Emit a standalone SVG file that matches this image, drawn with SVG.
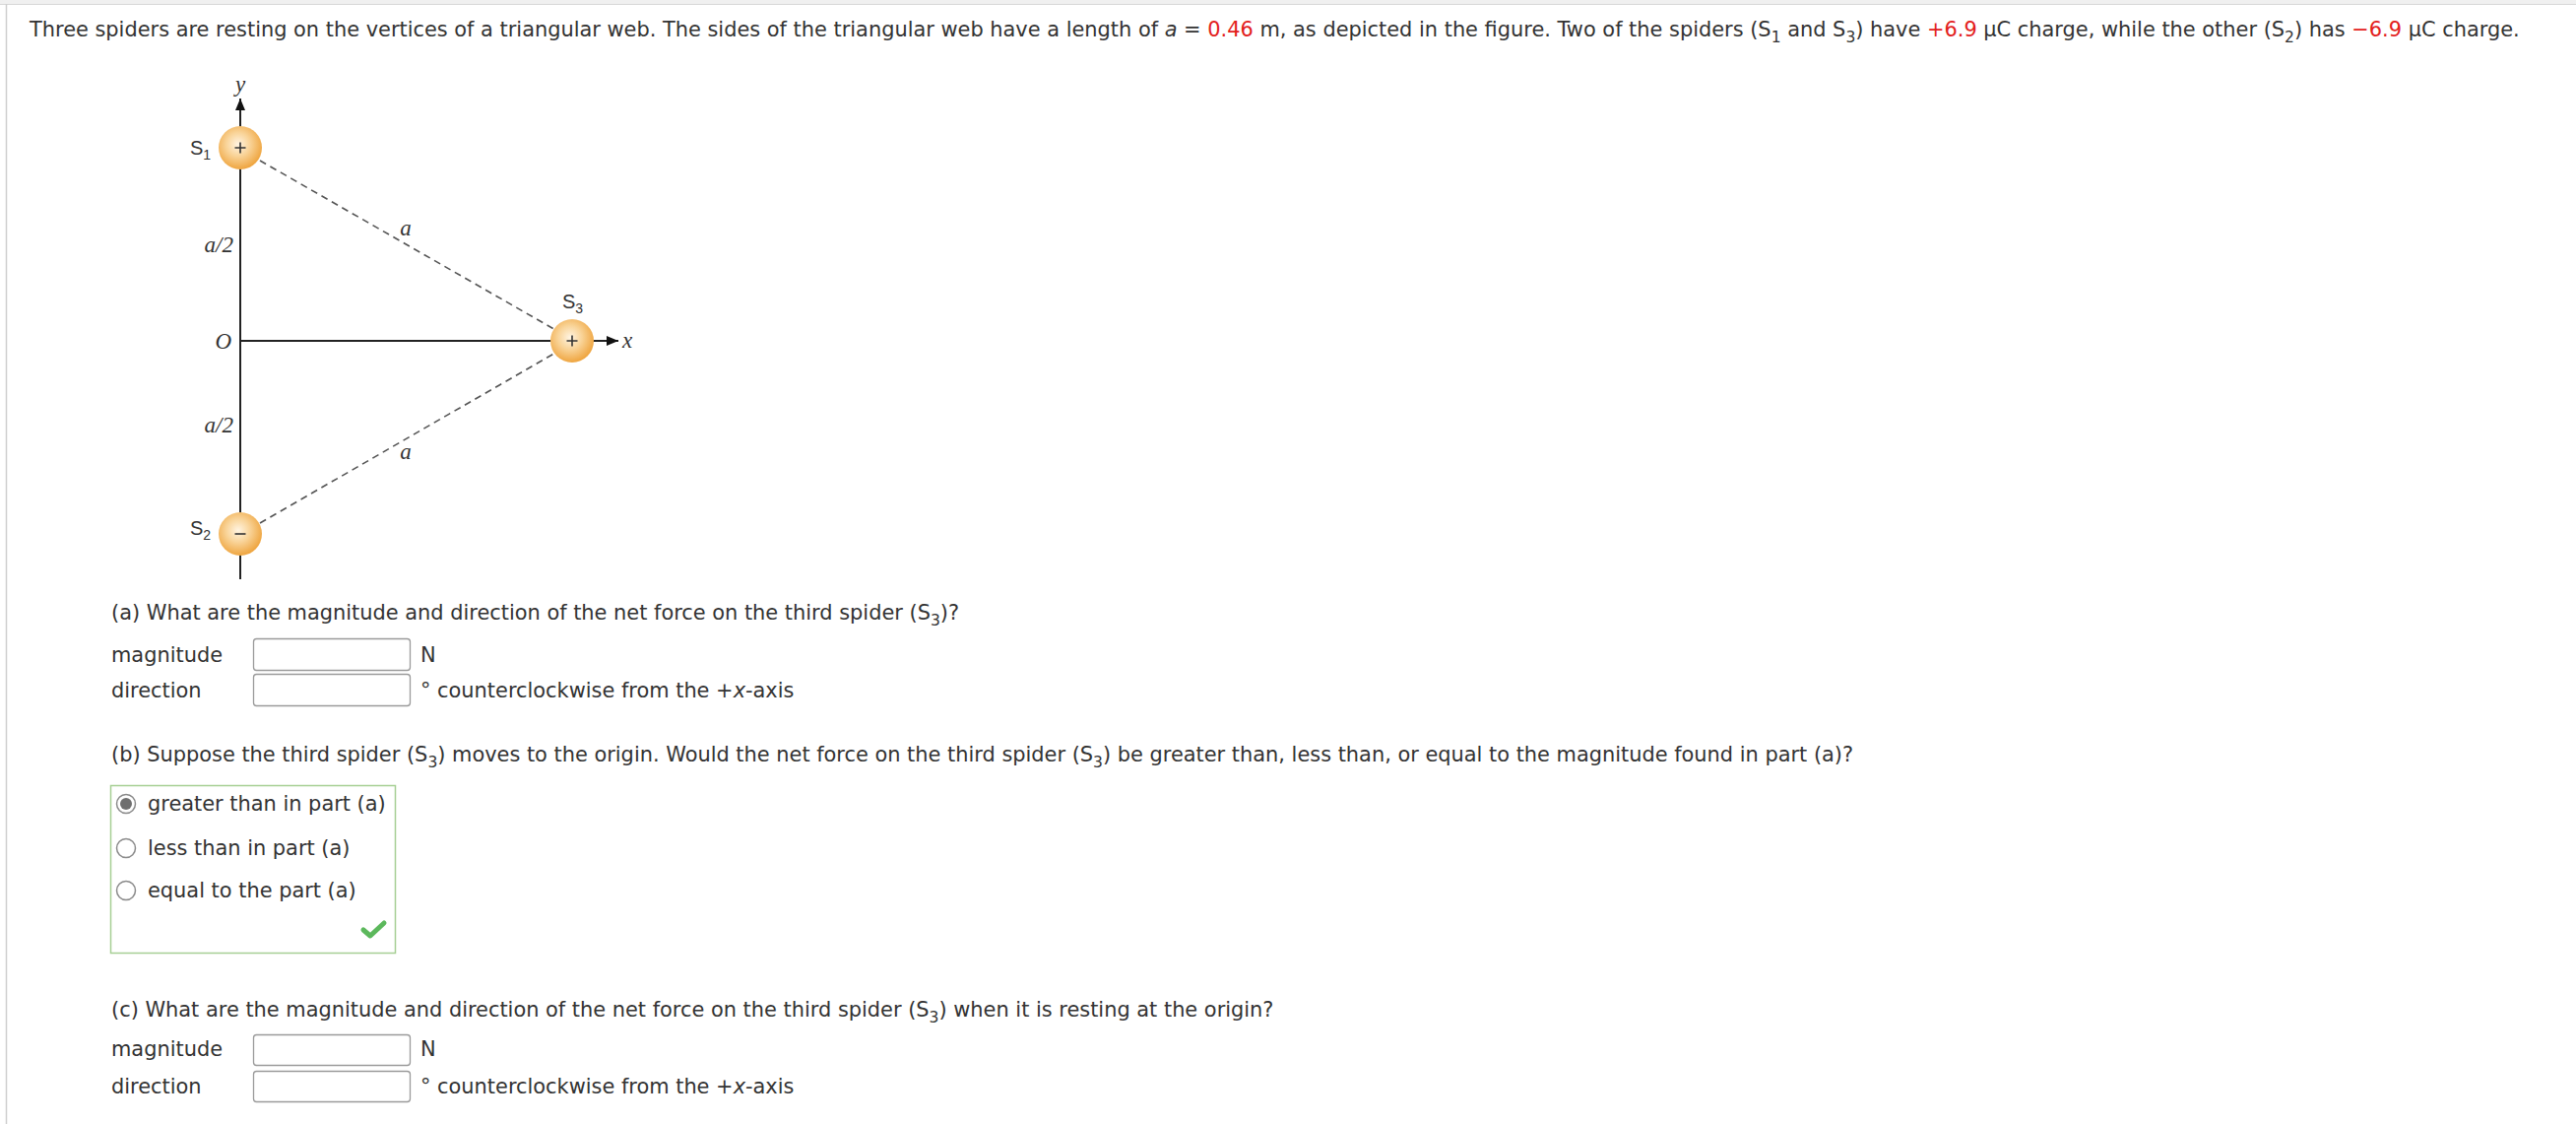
<svg xmlns="http://www.w3.org/2000/svg" width="2616" height="1141" viewBox="0 0 2616 1141">
<style>
.t{font-family:"DejaVu Sans","Verdana",sans-serif;font-size:20.9px;fill:#333}
.red{fill:#e3201c}
.lbl{font-family:"Liberation Serif","Times New Roman",serif;font-style:italic;font-size:23px;fill:#333}
.sl{font-family:"Liberation Sans",Arial,sans-serif;font-size:20px;fill:#333}
.box{fill:#fff;stroke:#9a9a9a;stroke-width:1.3}
.axis{stroke:#222;stroke-width:2;fill:none}
.dash{stroke:#555;stroke-width:1.6;stroke-dasharray:7 5;fill:none}
.radio{fill:#fff;stroke:#8a8a8a;stroke-width:1.5}
</style>
<defs>
<radialGradient id="ball" cx="0.45" cy="0.42" r="0.6">
<stop offset="0" stop-color="#fff4e2"/>
<stop offset="0.45" stop-color="#f9d499"/>
<stop offset="1" stop-color="#eea23a"/>
</radialGradient>
<marker id="arr" viewBox="0 0 12 10" refX="12" refY="5" markerWidth="12" markerHeight="10" markerUnits="userSpaceOnUse" orient="auto">
<path d="M0,0 L12,5 L0,10 z" fill="#111"/>
</marker>
</defs>
<rect x="0" y="0" width="2616" height="1141" fill="#fff"/>
<rect x="0" y="0" width="2616" height="4" fill="#f0f0f0"/>
<line x1="0" y1="4.5" x2="2616" y2="4.5" stroke="#d8d8d8" stroke-width="1"/>
<line x1="6.5" y1="4" x2="6.5" y2="1141" stroke="#cfcfcf" stroke-width="1.5"/>

<text class="t" x="30" y="37">Three spiders are resting on the vertices of a triangular web. The sides of the triangular web have a length of <tspan font-style="italic">a</tspan> = <tspan class="red">0.46</tspan> m, as depicted in the figure. Two of the spiders (S<tspan font-size="15.5" dy="6">1</tspan><tspan dy="-6"> and S</tspan><tspan font-size="15.5" dy="6">3</tspan><tspan dy="-6">) have </tspan><tspan class="red">+6.9</tspan> μC charge, while the other (S<tspan font-size="15.5" dy="6">2</tspan><tspan dy="-6">) has </tspan><tspan class="red">−6.9</tspan> μC charge.</text>

<g id="connectors">
<line class="axis" x1="244" y1="588" x2="244" y2="100" marker-end="url(#arr)"/>
<line class="axis" x1="244" y1="346" x2="628" y2="346" marker-end="url(#arr)"/>
<line class="dash" x1="264" y1="163" x2="566" y2="336"/>
<line class="dash" x1="264" y1="531" x2="566" y2="357"/>
</g>

<g id="labels">
<text class="lbl" x="244" y="93" text-anchor="middle">y</text>
<text class="lbl" x="637" y="353" text-anchor="middle">x</text>
<text class="lbl" x="235" y="354" text-anchor="end">O</text>
<text class="lbl" x="237" y="256" text-anchor="end">a/2</text>
<text class="lbl" x="237" y="439" text-anchor="end">a/2</text>
<text class="lbl" x="412" y="239" text-anchor="middle">a</text>
<text class="lbl" x="412" y="466" text-anchor="middle">a</text>
</g>

<g id="S1">
<circle cx="244" cy="150" r="22" fill="url(#ball)"/>
<path d="M238.5,150 h11 M244,144.5 v11" stroke="#333" stroke-width="1.6"/>
<text class="sl" x="193" y="157">S<tspan font-size="14" dy="5">1</tspan></text>
</g>
<g id="S3">
<circle cx="581" cy="346" r="22" fill="url(#ball)"/>
<path d="M575.5,346 h11 M581,340.5 v11" stroke="#333" stroke-width="1.6"/>
<text class="sl" x="571" y="313">S<tspan font-size="14" dy="5">3</tspan></text>
</g>
<g id="S2">
<circle cx="244" cy="542" r="22" fill="url(#ball)"/>
<path d="M238.5,542 h11" stroke="#333" stroke-width="1.6"/>
<text class="sl" x="193" y="543">S<tspan font-size="14" dy="5">2</tspan></text>
</g>

<g id="partA">
<text class="t" x="113" y="629">(a) What are the magnitude and direction of the net force on the third spider (S<tspan font-size="15.5" dy="6">3</tspan><tspan dy="-6">)?</tspan></text>
<text class="t" x="113" y="672">magnitude</text>
<rect class="box" x="257.5" y="648.5" width="159" height="32" rx="3"/>
<text class="t" x="427" y="672">N</text>
<text class="t" x="113" y="708">direction</text>
<rect class="box" x="257.5" y="684.5" width="159" height="32" rx="3"/>
<text class="t" x="427" y="708">° counterclockwise from the +<tspan font-style="italic">x</tspan>-axis</text>
</g>

<g id="partB">
<text class="t" x="113" y="773">(b) Suppose the third spider (S<tspan font-size="15.5" dy="6">3</tspan><tspan dy="-6">) moves to the origin. Would the net force on the third spider (S</tspan><tspan font-size="15.5" dy="6">3</tspan><tspan dy="-6">) be greater than, less than, or equal to the magnitude found in part (a)?</tspan></text>
<rect x="112.5" y="797.5" width="289" height="170" fill="#fff" stroke="#a6cf94" stroke-width="1.5"/>
<circle class="radio" cx="128" cy="816" r="9.5"/>
<circle cx="128" cy="816" r="6" fill="#6e6e6e"/>
<text class="t" x="150" y="823">greater than in part (a)</text>
<circle class="radio" cx="128" cy="861" r="9.5"/>
<text class="t" x="150" y="868">less than in part (a)</text>
<circle class="radio" cx="128" cy="904" r="9.5"/>
<text class="t" x="150" y="911">equal to the part (a)</text>
<path d="M369,944 L376,950 L390,937" fill="none" stroke="#5cb85c" stroke-width="5" stroke-linecap="round" stroke-linejoin="round"/>
</g>

<g id="partC">
<text class="t" x="113" y="1032">(c) What are the magnitude and direction of the net force on the third spider (S<tspan font-size="15.5" dy="6">3</tspan><tspan dy="-6">) when it is resting at the origin?</tspan></text>
<text class="t" x="113" y="1072">magnitude</text>
<rect class="box" x="257.5" y="1050.5" width="159" height="31" rx="3"/>
<text class="t" x="427" y="1072">N</text>
<text class="t" x="113" y="1110">direction</text>
<rect class="box" x="257.5" y="1087.5" width="159" height="31" rx="3"/>
<text class="t" x="427" y="1110">° counterclockwise from the +<tspan font-style="italic">x</tspan>-axis</text>
</g>
</svg>
